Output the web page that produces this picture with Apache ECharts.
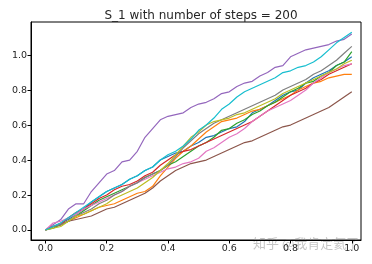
<!DOCTYPE html>
<html>
<head>
<meta charset="utf-8">
<script src="https://cdn.jsdelivr.net/npm/echarts@6/dist/echarts.min.js"></script>
<style>
  html, body { margin: 0; padding: 0; background: #fff; }
  #chart { width: 372px; height: 264px; }
</style>
</head>
<body>
<div id="chart"></div>
<script>
// time steps (0 .. 1, every 0.025)
const steps = [0, 0.025, 0.05, 0.075, 0.1, 0.125, 0.15, 0.175, 0.2, 0.225, 0.25,
               0.275, 0.3, 0.325, 0.35, 0.375, 0.4, 0.425, 0.45, 0.475, 0.5,
               0.525, 0.55, 0.575, 0.6, 0.625, 0.65, 0.675, 0.7, 0.725, 0.75,
               0.775, 0.8, 0.825, 0.85, 0.875, 0.9, 0.925, 0.95, 0.975, 1.0];

// one path per colour
const pathBlue   = [0,.02,.04,.06,.09,.12,.16,.19,.22,.24,.26,.29,.31,.34,.36,.40,.42,.44,.45,.48,.50,.53,.54,.56,.58,.59,.62,.67,.69,.71,.74,.77,.79,.80,.84,.87,.89,.91,.94,.96,.99];
const pathOrange = [0,.02,.03,.05,.07,.09,.11,.13,.14,.15,.17,.19,.21,.22,.25,.31,.36,.41,.45,.48,.52,.56,.59,.62,.63,.64,.66,.68,.69,.71,.73,.75,.77,.80,.82,.84,.85,.87,.88,.89,.89];
const pathGreen  = [0,.01,.03,.05,.08,.11,.14,.17,.19,.21,.23,.25,.27,.30,.32,.34,.37,.39,.42,.45,.48,.50,.53,.57,.58,.61,.63,.66,.68,.71,.73,.76,.79,.81,.84,.85,.88,.90,.94,.96,1.02];
const pathRed    = [0,.02,.03,.07,.10,.12,.15,.18,.20,.23,.25,.26,.28,.31,.33,.37,.40,.43,.45,.46,.48,.50,.52,.54,.56,.58,.60,.62,.65,.68,.71,.74,.77,.79,.81,.84,.86,.89,.91,.93,.95];
const pathPurple = [0,.03,.06,.12,.15,.15,.22,.27,.32,.34,.39,.40,.45,.53,.58,.63,.65,.66,.67,.70,.72,.73,.75,.78,.79,.82,.84,.85,.88,.90,.93,.94,.99,1.01,1.03,1.04,1.05,1.06,1.08,1.09,1.12];
const pathBrown  = [0,.02,.03,.05,.06,.07,.08,.10,.12,.13,.15,.17,.19,.21,.24,.28,.31,.34,.36,.38,.39,.40,.42,.44,.46,.48,.50,.51,.53,.55,.57,.59,.60,.62,.64,.66,.68,.70,.73,.76,.79];
const pathPink   = [0,.04,.05,.07,.09,.12,.14,.16,.18,.20,.22,.25,.27,.29,.31,.33,.35,.36,.38,.39,.41,.45,.47,.50,.53,.55,.58,.62,.65,.68,.70,.72,.74,.77,.80,.84,.87,.90,.92,.94,.95];
const pathGray   = [0,.02,.03,.05,.08,.10,.12,.15,.17,.20,.22,.25,.27,.30,.32,.34,.37,.42,.47,.51,.55,.58,.61,.63,.65,.67,.69,.71,.73,.75,.77,.80,.82,.84,.86,.89,.91,.94,.97,1.01,1.05];
const pathOlive  = [0,.01,.02,.05,.08,.09,.11,.13,.15,.18,.20,.22,.24,.27,.30,.34,.38,.43,.48,.53,.56,.60,.62,.63,.64,.66,.67,.69,.71,.73,.75,.78,.80,.82,.84,.86,.88,.90,.92,.95,.97];
const pathCyan   = [0,.02,.04,.07,.10,.13,.16,.19,.22,.24,.26,.29,.31,.34,.36,.40,.43,.45,.48,.52,.57,.60,.64,.69,.72,.76,.79,.81,.83,.85,.87,.90,.91,.93,.94,.96,.99,1.03,1.07,1.10,1.13];

const xTicks = [0, 0.2, 0.4, 0.6, 0.8, 1.0];
const yTicks = [0, 0.2, 0.4, 0.6, 0.8, 1.0];

const paths = [pathBlue, pathOrange, pathGreen, pathRed, pathPurple,
               pathBrown, pathPink, pathGray, pathOlive, pathCyan];
const colors = ["#1f77b4", "#ff7f0e", "#2ca02c", "#d62728", "#9467bd",
                "#8c564b", "#e377c2", "#7f7f7f", "#bcbd22", "#17becf"];

const chart = echarts.init(document.getElementById("chart"), null, { renderer: "canvas" });

const font = "DejaVu Sans";
const axisCommon = {
  type: "value",
  splitLine: { show: false },
  axisLine: { show: true, onZero: false, lineStyle: { color: "#000", width: 1 } },
  axisTick: { show: true, length: 3.5, lineStyle: { color: "#000" } },
  axisLabel: {
    color: "#262626", fontFamily: font, fontSize: 9.5, margin: 4,
    formatter: v => v.toFixed(1)
  }
};

chart.setOption({
  animation: false,
  color: colors,
  title: {
    text: "S_1 with number of steps = 200",
    left: 196, top: 5, textAlign: "center",
    textStyle: { fontFamily: font, fontSize: 12, fontWeight: "normal", color: "#262626" }
  },
  grid: {
    left: 31, right: 11, top: 22, bottom: 24,
    show: true, borderColor: "#000", borderWidth: 1
  },
  xAxis: Object.assign({}, axisCommon, {
    min: -0.047, max: 1.03,
    axisTick: Object.assign({}, axisCommon.axisTick, { customValues: xTicks }),
    axisLabel: Object.assign({}, axisCommon.axisLabel, { customValues: xTicks })
  }),
  yAxis: Object.assign({}, axisCommon, {
    min: -0.057, max: 1.189,
    axisTick: Object.assign({}, axisCommon.axisTick, { customValues: yTicks }),
    axisLabel: Object.assign({}, axisCommon.axisLabel, { customValues: yTicks })
  }),
  graphic: [{
    type: "text", left: 253, top: 237, silent: true,
    style: { text: "知乎 @我肯定氦了", font: "13px 'Noto Sans CJK SC'", fill: "rgba(150,150,150,0.55)" }
  }],
  series: paths.map(p => ({
    type: "line",
    data: steps.map((x, i) => [x, p[i]]),
    showSymbol: false,
    lineStyle: { width: 1.2 },
    silent: true
  }))
});
</script>
</body>
</html>
